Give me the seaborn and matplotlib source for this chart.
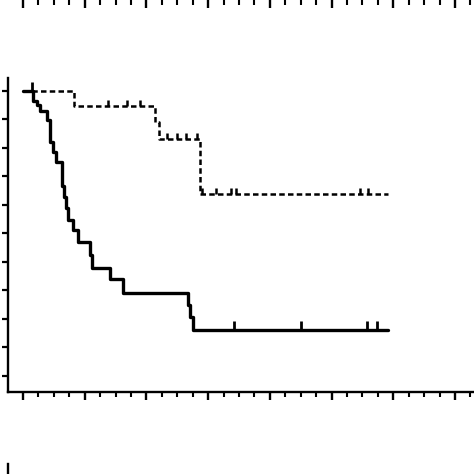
import numpy as np
import pandas as pd
import matplotlib
matplotlib.use("Agg")
import matplotlib.pyplot as plt
from matplotlib.path import Path
from matplotlib.ticker import MultipleLocator
import seaborn as sns

# ─────────────────────────────────────────────
# Data (time in months, survival 0..1)
# ─────────────────────────────────────────────

solid_time = [0, 1.94, 2.72, 3.31, 4.67, 5.25, 5.83, 6.42, 7.59, 7.97, 8.36,
              8.75, 9.72, 10.70, 13.03, 13.42, 16.92, 19.45, 32.09, 32.48,
              33.06, 71.0]
solid_surv = [1.0, 0.965, 0.951, 0.929, 0.897, 0.820, 0.785, 0.750, 0.666,
              0.627, 0.589, 0.547, 0.512, 0.470, 0.424, 0.379, 0.340, 0.291,
              0.249, 0.207, 0.161, 0.161]

dashed_time = [0, 9.92, 25.67, 26.45, 34.42, 71.0]
dashed_surv = [1.0, 0.948, 0.890, 0.829, 0.638, 0.638]

solid_cens_time = [1.8, 41.04, 54.07, 66.9, 68.85]
solid_cens_surv = [1.0, 0.161, 0.161, 0.161, 0.161]

dashed_cens_time = [16.53, 20.23, 22.76, 28.0, 29.95, 31.7, 33.84,
                    34.81, 37.54, 40.45, 41.43, 65.54, 67.1]
dashed_cens_surv = [0.948, 0.948, 0.948, 0.829, 0.829, 0.829, 0.829,
                    0.638, 0.638, 0.638, 0.638, 0.638, 0.638]

# ─────────────────────────────────────────────
# Figure
# ─────────────────────────────────────────────

sns.set_style("ticks")
W = H = 474
fig = plt.figure(figsize=(W / 100, H / 100), dpi=100)

def px(l, b, r, t):
    return [l / W, (H - b) / H, (r - l) / W, (b - t) / H]

ax = fig.add_axes(px(8, 392, 474, 78))

# censor mark: short stroke going up from the curve
up_tick = Path([(0, 0), (0, 1)], [Path.MOVETO, Path.LINETO])

sns.lineplot(x=solid_time, y=solid_surv, drawstyle="steps-post",
             estimator=None, sort=False, color="black", lw=2.4, ax=ax)
sns.lineplot(x=dashed_time, y=dashed_surv, drawstyle="steps-post",
             estimator=None, sort=False, color="black", lw=1.8,
             dashes=(2.2, 1.3), ax=ax)
sns.lineplot(x=solid_cens_time, y=solid_cens_surv, estimator=None, sort=False,
             color="black", linestyle="", marker=up_tick, markersize=13,
             markeredgewidth=2.0, markeredgecolor="black", ax=ax)
sns.lineplot(x=dashed_cens_time, y=dashed_cens_surv, estimator=None, sort=False,
             color="black", linestyle="", marker=up_tick, markersize=9,
             markeredgewidth=1.8, markeredgecolor="black", ax=ax)

ax.set_xlim(-2.92, 87.7)
ax.set_ylim(-0.056, 1.0445)
ax.xaxis.set_major_locator(MultipleLocator(12))
ax.xaxis.set_minor_locator(MultipleLocator(3))
ax.set_yticks(np.arange(0, 1.01, 0.1))
ax.set_xticklabels([])
ax.set_yticklabels([])
ax.set_xlabel("")
ax.set_ylabel("")
for s in ["top", "right"]:
    ax.spines[s].set_visible(False)
for s in ["left", "bottom"]:
    ax.spines[s].set_linewidth(1.7)
    ax.spines[s].set_color("black")
ax.tick_params(axis="y", which="major", length=4.5, width=1.6, color="black")
ax.tick_params(axis="x", which="major", length=5.5, width=1.7, color="black")
ax.tick_params(axis="x", which="minor", length=3.5, width=1.5, color="black")

# panel above (only its tick marks show)
ax_top = fig.add_axes([8 / W, 1.003, (474 - 8) / W, 0.3])
ax_top.set_xlim(ax.get_xlim())
ax_top.xaxis.set_major_locator(MultipleLocator(12))
ax_top.xaxis.set_minor_locator(MultipleLocator(3))
ax_top.set_yticks([])
ax_top.set_xticklabels([])
for s in ax_top.spines.values():
    s.set_visible(False)
ax_top.tick_params(axis="x", which="major", length=6.5, width=1.7, color="black")
ax_top.tick_params(axis="x", which="minor", length=4.5, width=1.5, color="black")

# panel below (only the top of its left spine shows)
ax_bot = fig.add_axes([8 / W, -0.5, (474 - 8) / W, 0.5 + 10 / H])
ax_bot.set_xticks([])
ax_bot.set_yticks([])
for s in ["top", "right", "bottom"]:
    ax_bot.spines[s].set_visible(False)
ax_bot.spines["left"].set_linewidth(1.7)
ax_bot.spines["left"].set_color("black")

fig.savefig("out.png", dpi=100)
